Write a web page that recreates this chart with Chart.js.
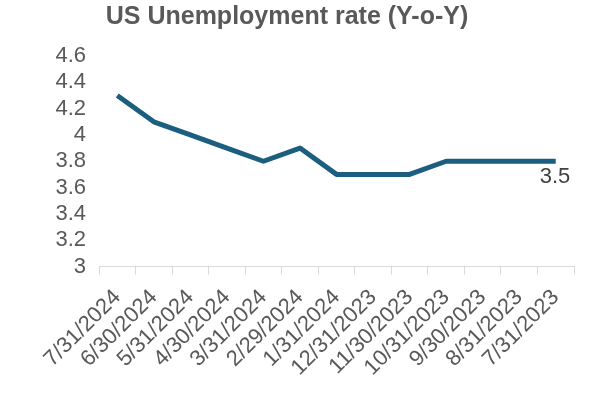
<!DOCTYPE html>
<html>
<head>
<meta charset="utf-8">
<script src="https://cdn.jsdelivr.net/npm/chart.js@4/dist/chart.umd.min.js"></script>
<style>
  html, body { margin: 0; padding: 0; background: #fff; }
  #wrap { width: 600px; height: 407px; }
</style>
</head>
<body>
<div id="wrap"><canvas id="rateChart"></canvas></div>
<script>
// Datos del gráfico
const months = ["7/31/2024", "6/30/2024", "5/31/2024", "4/30/2024", "3/31/2024", "2/29/2024",
  "1/31/2024", "12/31/2023", "11/30/2023", "10/31/2023", "9/30/2023", "8/31/2023", "7/31/2023"];
const unemployment = [4.3, 4.1, 4.0, 3.9, 3.8, 3.9, 3.7, 3.7, 3.7, 3.8, 3.8, 3.8, 3.8];
const lastLabel = "3.5";
const yTicks = [3, 3.2, 3.4, 3.6, 3.8, 4, 4.2, 4.4, 4.6];

const grey = "#595959";
const font = "'Liberation Sans', Arial, sans-serif";

// etiqueta del último punto
const endLabel = {
  id: "endLabel",
  afterDatasetsDraw(chart) {
    const meta = chart.getDatasetMeta(0);
    const pt = meta.data[meta.data.length - 1];
    const ctx = chart.ctx;
    ctx.save();
    ctx.font = "22px " + font;
    ctx.fillStyle = "#404040";
    ctx.textAlign = "left";
    ctx.textBaseline = "top";
    ctx.fillText(lastLabel, pt.x - 16, pt.y + 5);
    ctx.restore();
  }
};

new Chart(document.getElementById("rateChart"), {
  type: "line",
  data: {
    labels: months,
    datasets: [{
      data: unemployment,
      borderColor: "#1b5e80",
      borderWidth: 5,
      pointRadius: 0,
      tension: 0,
      borderJoinStyle: "round"
    }]
  },
  options: {
    responsive: true,
    maintainAspectRatio: false,
    animation: false,
    layout: { padding: { left: 0, right: 26, top: 2, bottom: 16 } },
    plugins: {
      legend: { display: false },
      tooltip: { enabled: false },
      title: {
        display: true,
        text: "US Unemployment rate (Y-o-Y)",
        color: grey,
        font: { family: font, size: 25, weight: "bold" },
        padding: { top: 0, bottom: 24 }
      }
    },
    scales: {
      x: {
        offset: true,
        grid: { offset: true, drawOnChartArea: false, color: "#d9d9d9", tickLength: 8, lineWidth: 1 },
        border: { display: true, color: "#d9d9d9", width: 1 },
        ticks: {
          minRotation: 45,
          maxRotation: 45,
          autoSkip: false,
          color: grey,
          font: { family: font, size: 22 },
          padding: 10
        }
      },
      y: {
        min: 3,
        max: 4.6,
        afterBuildTicks(scale) { scale.ticks = yTicks.map(v => ({ value: v })); },
        afterFit(scale) { scale.width = 99; },
        grid: { display: false },
        border: { display: false },
        ticks: {
          autoSkip: false,
          color: grey,
          font: { family: font, size: 22 },
          padding: 5,
          callback: v => String(Math.round(v * 10) / 10)
        }
      }
    }
  },
  plugins: [endLabel]
});
</script>
</body>
</html>
